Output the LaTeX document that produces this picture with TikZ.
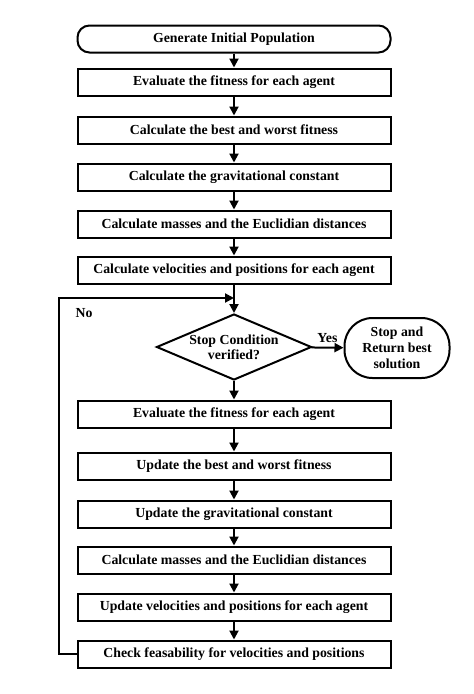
\documentclass[tikz,border=0pt]{standalone}
\usepackage{fontspec}
\setmainfont{Liberation Serif}
\usetikzlibrary{shapes.geometric,arrows.meta,positioning}
\tikzset{
  stepbox/.style={draw,line width=2pt,minimum width=313pt,minimum height=27pt,inner sep=0pt,
    font=\bfseries\fontsize{13.8}{16}\selectfont},
  startbox/.style={stepbox,rounded corners=12pt},
  testbox/.style={draw,diamond,aspect=2.35,line width=2pt,minimum width=155pt,minimum height=66pt,inner sep=-4pt,
    align=center,font=\bfseries\fontsize{13.8}{15}\selectfont},
  endbox/.style={draw,line width=2pt,rounded corners=28pt,minimum width=105pt,minimum height=60pt,
    inner sep=0pt,align=center,font=\bfseries\fontsize{13.8}{16}\selectfont},
  flow/.style={line width=2pt,-{Triangle[length=9pt,width=9pt]}},
  lbl/.style={font=\bfseries\fontsize{13.8}{16}\selectfont}
}
\begin{document}
\begin{tikzpicture}[x=1pt,y=-1pt]
\useasboundingbox (0,0) rectangle (474,694);
% first part
\node[startbox] (init) at (234,39) {Generate Initial Population};
\node[stepbox] (eval1) at (234,82) {Evaluate the fitness for each agent};
\node[stepbox] (best1) at (234,130) {Calculate the best and worst fitness};
\node[stepbox] (grav1) at (234,177) {Calculate the gravitational constant};
\node[stepbox] (mass1) at (234,224) {Calculate masses and the Euclidian distances};
\node[stepbox] (vel1) at (234,270) {Calculate velocities and positions for each agent};
% test
\node[testbox] (stop) at (234,347) {Stop Condition\\verified?};
\node[endbox] (done) at (397,348) {Stop and\\Return best\\solution};
% loop part
\node[stepbox] (eval2) at (234,414) {Evaluate the fitness for each agent};
\node[stepbox] (best2) at (234,466) {Update the best and worst fitness};
\node[stepbox] (grav2) at (234,514) {Update the gravitational constant};
\node[stepbox] (mass2) at (234,560) {Calculate masses and the Euclidian distances};
\node[stepbox] (vel2) at (234,607) {Update velocities and positions for each agent};
\node[stepbox] (check) at (234,654) {Check feasability for velocities and positions};
\coordinate (join) at (234,298);
% arrows
\draw[flow] (init) -- (eval1);
\draw[flow] (eval1) -- (best1);
\draw[flow] (best1) -- (grav1);
\draw[flow] (grav1) -- (mass1);
\draw[flow] (mass1) -- (vel1);
\draw[flow] (vel1) -- (stop);
\draw[flow] (stop) -- (done) node[lbl,midway,above=1pt] {Yes};
\draw[flow] (stop) -- (eval2);
\draw[flow] (eval2) -- (best2);
\draw[flow] (best2) -- (grav2);
\draw[flow] (grav2) -- (mass2);
\draw[flow] (mass2) -- (vel2);
\draw[flow] (vel2) -- (check);
\draw[flow] (check.west) -- ++(-18,0) |- (join);
\node[lbl] (no) at (84,313) {No};
\end{tikzpicture}
\end{document}
